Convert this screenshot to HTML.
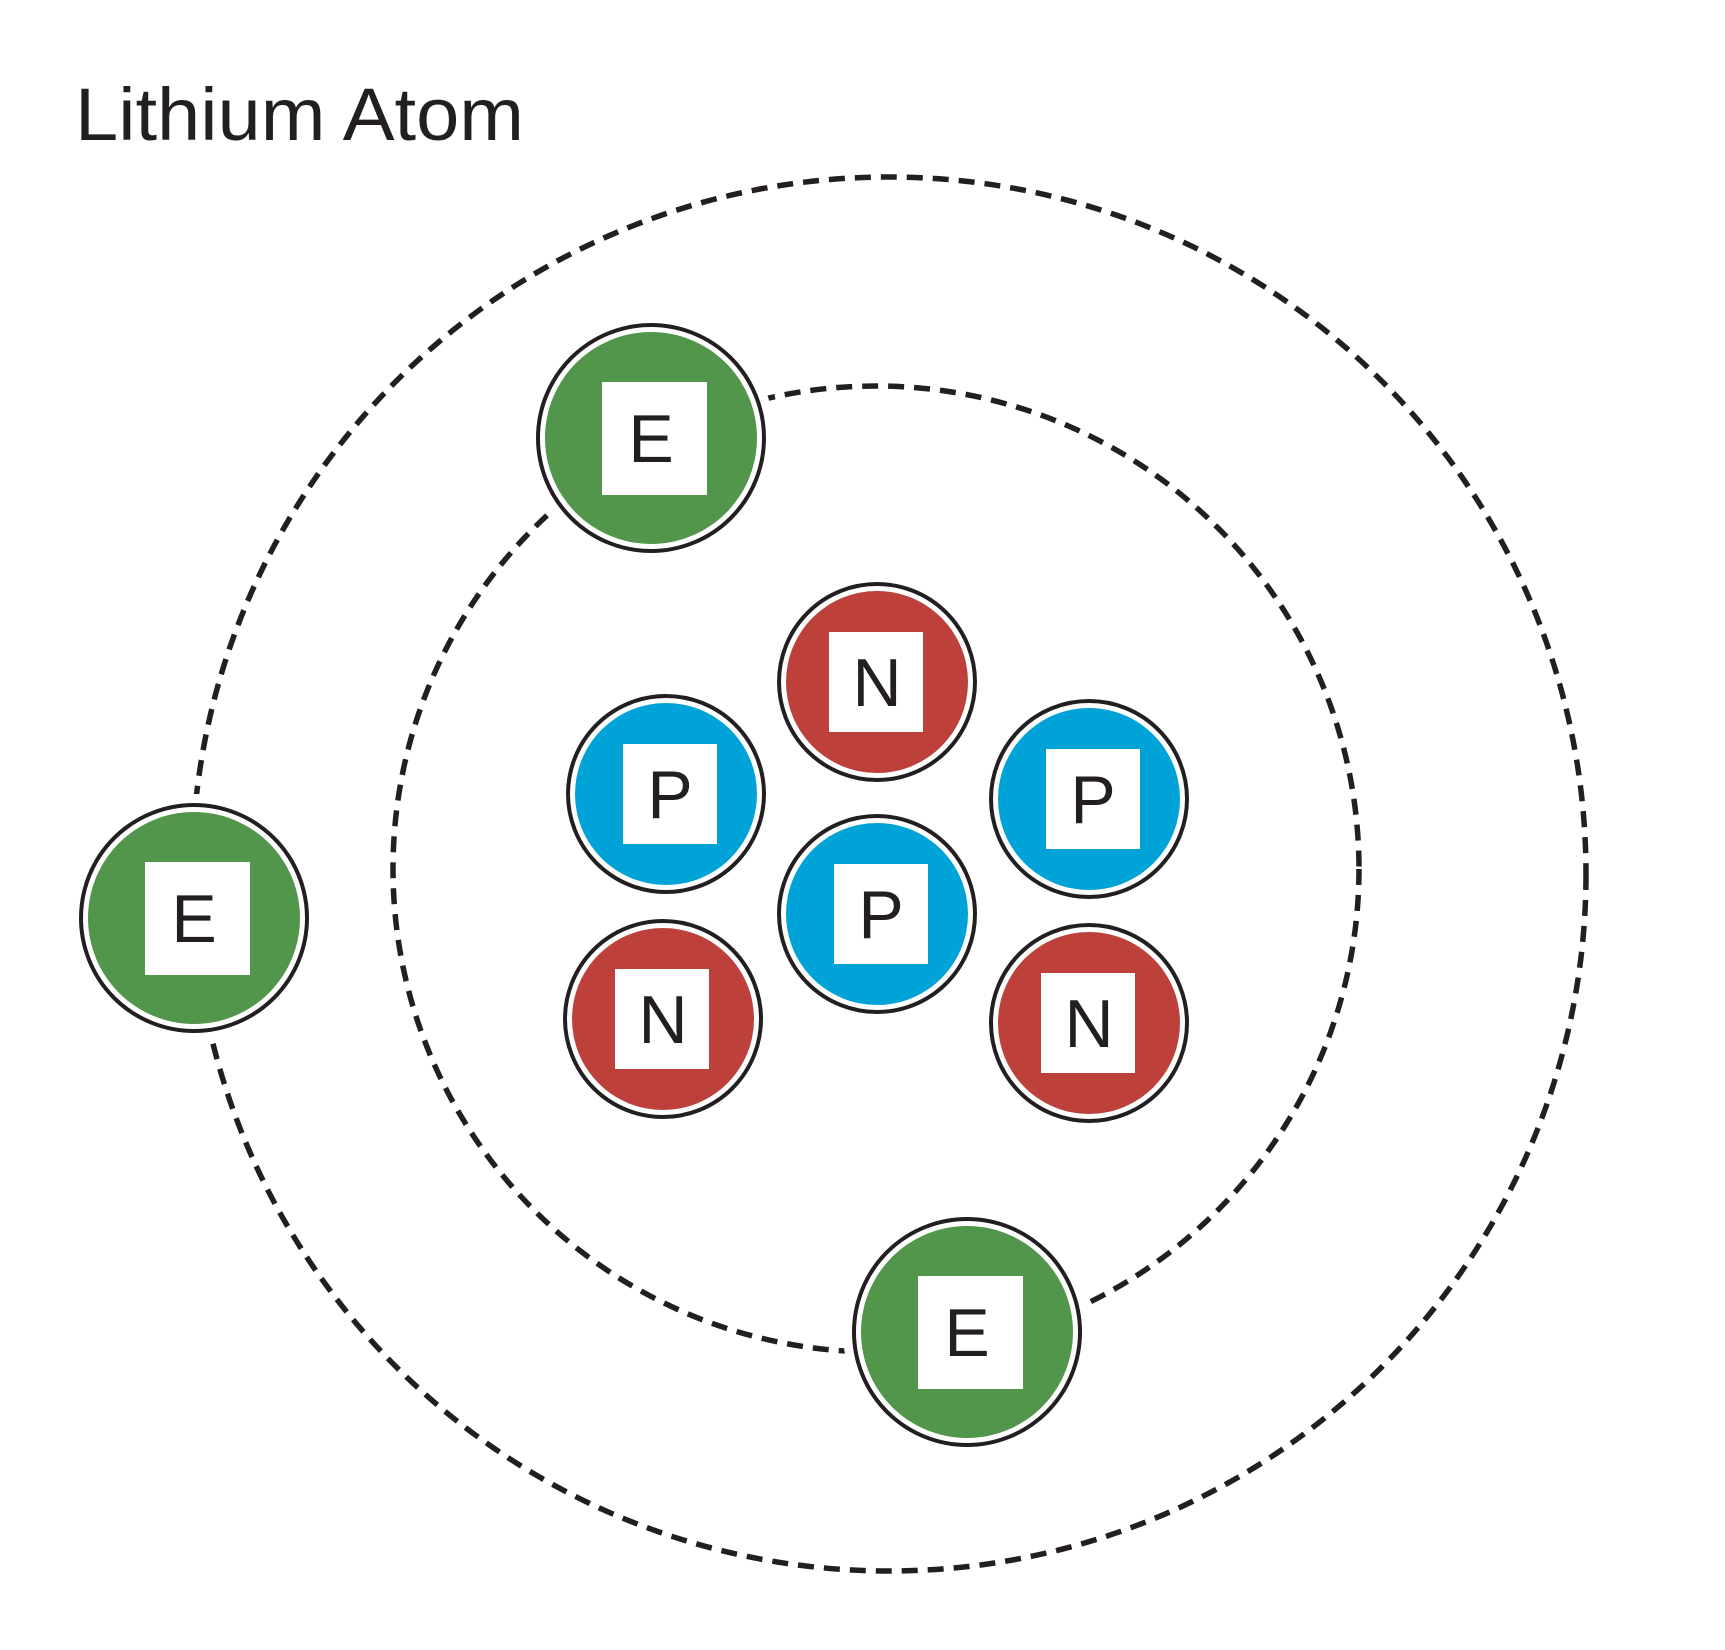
<!DOCTYPE html>
<html><head><meta charset="utf-8"><style>html,body{margin:0;padding:0;background:#fff}svg{display:block}</style></head>
<body>
<svg width="1725" height="1650" viewBox="0 0 1725 1650" xmlns="http://www.w3.org/2000/svg">
<rect width="1725" height="1650" fill="#fff"/>
<text x="75" y="140" font-family="Liberation Sans, sans-serif" font-size="74" fill="#231f20" textLength="449" lengthAdjust="spacingAndGlyphs">Lithium Atom</text>
<g fill="none" stroke="#231f20" stroke-width="5.5" stroke-dasharray="16 10">
<circle cx="889" cy="874" r="697"/>
<circle cx="876" cy="869" r="483"/>
</g>
<defs>
<g id="e">
<circle r="124" fill="#fff"/>
<circle r="113" fill="#fff" stroke="#231f20" stroke-width="4"/>
<circle r="106" fill="#52964b"/>
<rect x="-49" y="-56" width="105" height="113" fill="#fff"/>
</g>
<g id="n">
<circle r="98" fill="#fff" stroke="#231f20" stroke-width="4"/>
<circle r="91" fill="#bd403a"/>
<rect x="-48" y="-50" width="94" height="100" fill="#fff"/>
</g>
<g id="p">
<circle r="98" fill="#fff" stroke="#231f20" stroke-width="4"/>
<circle r="91" fill="#00a3d8"/>
<rect x="-43" y="-50" width="94" height="100" fill="#fff"/>
</g>
</defs>
<g font-family="Liberation Sans, sans-serif" font-size="68" fill="#231f20" text-anchor="middle">
<use href="#e" x="651" y="438"/><text x="651" y="462">E</text>
<use href="#e" x="194" y="918"/><text x="194" y="942">E</text>
<use href="#e" x="967" y="1332"/><text x="967" y="1356">E</text>
<use href="#n" x="877" y="682"/><text x="877" y="706">N</text>
<use href="#p" x="666" y="794"/><text x="670" y="818">P</text>
<use href="#p" x="1089" y="799"/><text x="1093" y="823">P</text>
<use href="#p" x="877" y="914"/><text x="881" y="938">P</text>
<use href="#n" x="663" y="1019"/><text x="663" y="1043">N</text>
<use href="#n" x="1089" y="1023"/><text x="1089" y="1047">N</text>
</g>
</svg>
</body></html>
